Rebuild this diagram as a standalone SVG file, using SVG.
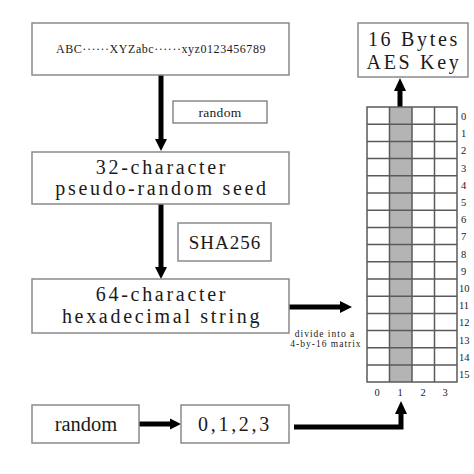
<svg xmlns="http://www.w3.org/2000/svg" width="474" height="474" viewBox="0 0 474 474">
<style>
.box{fill:#fff;stroke:#8a8a8a;stroke-width:1.5}
.t{fill:#1a1a1a;text-anchor:middle}
.big{font-size:20px;letter-spacing:2.7px}
.conn{stroke:#000;stroke-width:5;fill:none}
.head{fill:#000}
.lab{font-size:10.5px;fill:#222}
</style>
<rect width="474" height="474" fill="#fff"/>
<g font-family="'Liberation Serif', serif">
<g id="connectors">
<line class="conn" x1="161" y1="75" x2="161" y2="140"/>
<polygon class="head" points="155,139 167,139 161,151"/>
<line class="conn" x1="161" y1="204" x2="161" y2="268"/>
<polygon class="head" points="155,267 167,267 161,279"/>
<line class="conn" x1="289" y1="307" x2="341" y2="307"/>
<polygon class="head" points="340,301 340,313 352,307"/>
<line class="conn" x1="400" y1="107" x2="400" y2="90"/>
<polygon class="head" points="394,91 406,91 400,78"/>
<line class="conn" x1="139" y1="424" x2="171" y2="424"/>
<polygon class="head" points="170,418.5 170,429.5 181,424"/>
<polyline class="conn" points="294,427 401,427 401,413"/>
<polygon class="head" points="395,414 407,414 401,401"/>
</g>
<g id="charset">
<rect class="box" x="32" y="23" width="257" height="52"/>
<text class="t" x="161" y="53" font-size="12" letter-spacing="0.55">ABC······XYZabc······xyz0123456789</text>
</g>
<g id="random-label">
<rect class="box" x="173" y="101" width="94" height="22"/>
<text class="t" x="220" y="116.5" font-size="13.5" letter-spacing="0.3">random</text>
</g>
<g id="seed">
<rect class="box" x="32" y="152" width="257" height="52"/>
<text class="t big" x="162" y="174">32-character</text>
<text class="t big" x="162" y="195">pseudo-random seed</text>
</g>
<g id="sha256">
<rect class="box" x="178" y="223" width="93" height="38"/>
<text class="t" x="225" y="249" font-size="19" letter-spacing="1">SHA256</text>
</g>
<g id="hexstring">
<rect class="box" x="32" y="279" width="257" height="54"/>
<text class="t big" x="162" y="301">64-character</text>
<text class="t big" x="162" y="323">hexadecimal string</text>
</g>
<g id="divide-label">
<text class="t" x="325" y="337" font-size="9.5" letter-spacing="1">divide into a</text>
<text class="t" x="326" y="347" font-size="9.5" letter-spacing="1">4-by-16 matrix</text>
</g>
<g id="aeskey">
<rect class="box" x="358" y="23" width="110" height="54"/>
<text class="t big" x="414" y="46">16 Bytes</text>
<text class="t big" x="414" y="69">AES Key</text>
</g>
<g id="matrix">
<rect fill="#b4b4b4" x="389.5" y="107" width="22.5" height="275"/>
<g fill="none" stroke="#5a5a5a" stroke-width="1.5">
<rect x="367" y="107" width="90" height="275"/>
<path d="M389.5,107V382M412,107V382M434.5,107V382"/>
<path d="M367,124.2H457M367,141.4H457M367,158.6H457M367,175.8H457M367,193H457M367,210.2H457M367,227.4H457M367,244.6H457M367,261.8H457M367,279H457M367,296.2H457M367,313.4H457M367,330.6H457M367,347.8H457M367,365H457"/>
</g>
<g class="lab">
<text x="461" y="120">0</text><text x="461" y="137">1</text><text x="461" y="154">2</text><text x="461" y="172">3</text>
<text x="461" y="189">4</text><text x="461" y="206">5</text><text x="461" y="223">6</text><text x="461" y="240">7</text>
<text x="461" y="258">8</text><text x="461" y="275">9</text><text x="459" y="292">10</text><text x="459" y="309">11</text>
<text x="459" y="326">12</text><text x="459" y="344">13</text><text x="459" y="361">14</text><text x="459" y="378">15</text>
</g>
<g class="lab" text-anchor="middle">
<text x="377" y="396">0</text><text x="400" y="396">1</text><text x="423" y="396">2</text><text x="445" y="396">3</text>
</g>
</g>
<g id="random">
<rect class="box" x="32" y="405" width="107" height="38"/>
<text class="t" x="86" y="431" font-size="20.5">random</text>
</g>
<g id="choice">
<rect class="box" x="181" y="405" width="108" height="38"/>
<text class="t big" x="235" y="431">0,1,2,3</text>
</g>
</g>
</svg>
